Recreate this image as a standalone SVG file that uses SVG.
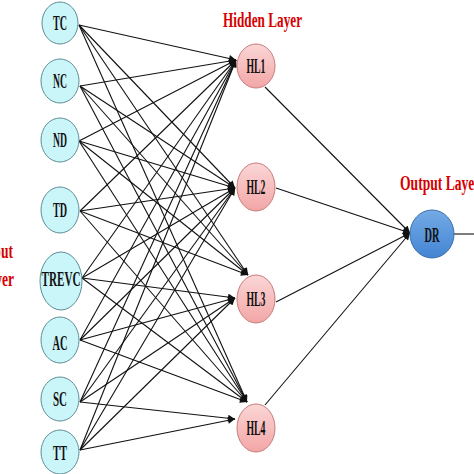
<svg xmlns="http://www.w3.org/2000/svg" width="474" height="474" viewBox="0 0 474 474">
<style>
.in{fill:#caf5f9;stroke:#5d8e96;stroke-width:1}
.hid{fill:url(#gPink);stroke:#c77a7a;stroke-width:1}
.out{fill:url(#gBlue);stroke:#3b6fa8;stroke-width:1}
.nt{font-family:"Liberation Serif","Times New Roman",serif;font-weight:bold;font-size:20px;fill:#111;text-anchor:middle}
.lt{font-family:"Liberation Serif","Times New Roman",serif;font-weight:bold;font-size:20px;fill:#d60000}
.c line{stroke:#111;stroke-width:1.1}
.a{marker-end:url(#arr)}
</style>
<defs>
<linearGradient id="gPink" x1="0" y1="0" x2="0" y2="1">
<stop offset="0" stop-color="#fbd6d6"/><stop offset="1" stop-color="#f3a6a6"/>
</linearGradient>
<linearGradient id="gBlue" x1="0" y1="0" x2="0" y2="1">
<stop offset="0" stop-color="#74abe6"/><stop offset="1" stop-color="#4384d2"/>
</linearGradient>
<marker id="arr" viewBox="0 0 10 10" refX="10" refY="5" markerWidth="9" markerHeight="7" markerUnits="userSpaceOnUse" orient="auto">
<path d="M0,0 L10,5 L0,10 z" fill="#111"/>
</marker>
</defs>
<rect width="474" height="474" fill="#fff"/>
<text class="lt" x="223" y="27" textLength="79" lengthAdjust="spacingAndGlyphs">Hidden Layer</text>
<text class="lt" transform="translate(400,190) scale(0.68,1)">Output Layer</text>
<text class="lt" text-anchor="end" transform="translate(13,258) scale(0.68,1)">Input</text>
<text class="lt" text-anchor="end" transform="translate(14,286) scale(0.68,1)">Layer</text>
<g id="connectors" class="c">
<line class="a" x1="79" y1="25" x2="236" y2="60"/>
<line class="a" x1="80" y1="86" x2="236" y2="60"/>
<line class="a" x1="79" y1="141" x2="236" y2="60"/>
<line class="a" x1="80" y1="211" x2="236" y2="60"/>
<line class="a" x1="82" y1="278" x2="236" y2="60"/>
<line class="a" x1="80" y1="340" x2="236" y2="60"/>
<line class="a" x1="80" y1="402" x2="236" y2="60"/>
<line class="a" x1="80" y1="450" x2="236" y2="60"/>
<line class="a" x1="79" y1="25" x2="235" y2="188"/>
<line class="a" x1="80" y1="86" x2="235" y2="188"/>
<line class="a" x1="79" y1="141" x2="235" y2="188"/>
<line class="a" x1="80" y1="211" x2="235" y2="188"/>
<line class="a" x1="82" y1="278" x2="235" y2="188"/>
<line class="a" x1="80" y1="340" x2="235" y2="188"/>
<line class="a" x1="80" y1="402" x2="235" y2="188"/>
<line class="a" x1="80" y1="450" x2="235" y2="188"/>
<line class="a" x1="79" y1="25" x2="248" y2="275"/>
<line class="a" x1="80" y1="86" x2="248" y2="275"/>
<line class="a" x1="79" y1="141" x2="248" y2="275"/>
<line class="a" x1="80" y1="211" x2="248" y2="275"/>
<line class="a" x1="82" y1="278" x2="235" y2="298"/>
<line class="a" x1="80" y1="340" x2="235" y2="298"/>
<line class="a" x1="80" y1="402" x2="235" y2="298"/>
<line class="a" x1="80" y1="450" x2="235" y2="298"/>
<line class="a" x1="79" y1="25" x2="247" y2="402"/>
<line class="a" x1="80" y1="86" x2="247" y2="402"/>
<line class="a" x1="79" y1="141" x2="247" y2="402"/>
<line class="a" x1="80" y1="211" x2="247" y2="402"/>
<line class="a" x1="82" y1="278" x2="247" y2="402"/>
<line class="a" x1="80" y1="340" x2="247" y2="402"/>
<line class="a" x1="80" y1="402" x2="235" y2="419"/>
<line class="a" x1="80" y1="450" x2="235" y2="419"/>
<line class="a" x1="265" y1="87" x2="410" y2="233"/>
<line class="a" x1="276" y1="188" x2="410" y2="233"/>
<line class="a" x1="276" y1="302" x2="410" y2="233"/>
<line class="a" x1="265" y1="405" x2="410" y2="233"/>
<line x1="454" y1="234" x2="474" y2="234"/>
</g>
<g id="TC"><ellipse class="in" cx="60" cy="23" rx="18" ry="21"/><text class="nt" x="60" y="30" textLength="14" lengthAdjust="spacingAndGlyphs">TC</text></g>
<g id="NC"><ellipse class="in" cx="60" cy="81" rx="19" ry="22"/><text class="nt" x="60" y="88" textLength="14" lengthAdjust="spacingAndGlyphs">NC</text></g>
<g id="ND"><ellipse class="in" cx="60" cy="140" rx="19" ry="22"/><text class="nt" x="60" y="147" textLength="14" lengthAdjust="spacingAndGlyphs">ND</text></g>
<g id="TD"><ellipse class="in" cx="60" cy="210" rx="19" ry="23"/><text class="nt" x="60" y="217" textLength="14" lengthAdjust="spacingAndGlyphs">TD</text></g>
<g id="TREVC"><ellipse class="in" cx="61" cy="281" rx="21" ry="29"/><text class="nt" x="61" y="286" textLength="39" lengthAdjust="spacingAndGlyphs">TREVC</text></g>
<g id="AC"><ellipse class="in" cx="60" cy="340" rx="19" ry="23"/><text class="nt" x="60" y="350" textLength="15" lengthAdjust="spacingAndGlyphs">AC</text></g>
<g id="SC"><ellipse class="in" cx="60" cy="399" rx="19" ry="22"/><text class="nt" x="60" y="406" textLength="14" lengthAdjust="spacingAndGlyphs">SC</text></g>
<g id="TT"><ellipse class="in" cx="60" cy="452" rx="19" ry="22"/><text class="nt" x="60" y="460" textLength="14" lengthAdjust="spacingAndGlyphs">TT</text></g>
<g id="HL1"><ellipse class="hid" cx="256" cy="66" rx="19" ry="22"/><text class="nt" x="256" y="73" textLength="19" lengthAdjust="spacingAndGlyphs">HL1</text></g>
<g id="HL2"><ellipse class="hid" cx="256" cy="187" rx="19" ry="24"/><text class="nt" x="256" y="194" textLength="19" lengthAdjust="spacingAndGlyphs">HL2</text></g>
<g id="HL3"><ellipse class="hid" cx="256" cy="299" rx="19" ry="24"/><text class="nt" x="256" y="306" textLength="19" lengthAdjust="spacingAndGlyphs">HL3</text></g>
<g id="HL4"><ellipse class="hid" cx="256" cy="428" rx="19" ry="24"/><text class="nt" x="256" y="435" textLength="19" lengthAdjust="spacingAndGlyphs">HL4</text></g>
<g id="DR"><ellipse class="out" cx="432" cy="234" rx="22" ry="24"/><text class="nt" x="432" y="242" textLength="15" lengthAdjust="spacingAndGlyphs">DR</text></g>
</svg>
